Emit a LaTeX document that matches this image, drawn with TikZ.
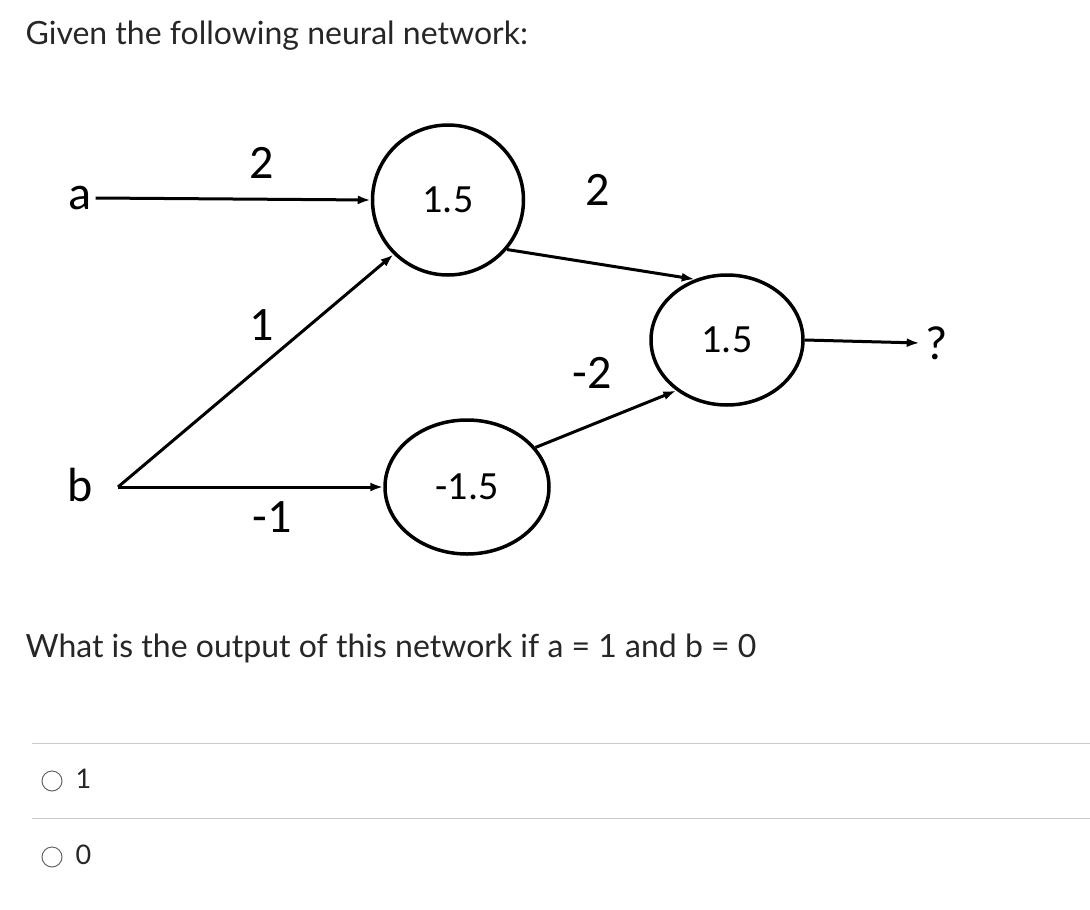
\documentclass[tikz,border=0pt]{standalone}
\usepackage{fontspec}
\setmainfont{Lato}
\newfontfamily\calfont{Carlito}
\usetikzlibrary{arrows.meta,shapes.geometric}
\begin{document}
\begin{tikzpicture}[x=1pt,y=-1pt,
  neuron/.style={draw,line width=3.5pt,ellipse,inner sep=0},
  edge/.style={line width=3pt,-{Latex[length=13pt,width=9pt]}},
  lab/.style={font=\calfont\fontsize{48}{48}\selectfont},
  nlab/.style={font=\calfont\fontsize{40}{40}\selectfont},
  txt/.style={anchor=west,font=\fontsize{32}{32}\selectfont,text=black!85}]
\useasboundingbox (0,0) rectangle (1090,910);
\node[txt] (title) at (22,36) {Given the following neural network:};
\node[neuron,minimum width=151pt,minimum height=150pt] (h1) at (448,200) {};
\node[nlab] at (h1) {1.5};
\node[neuron,minimum width=152pt,minimum height=130pt] (o) at (727,340) {};
\node[nlab] at (o) {1.5};
\node[neuron,minimum width=164pt,minimum height=134pt] (h2) at (467,487) {};
\node[nlab] at (h2) {-1.5};
\node[lab,inner sep=4pt] (a) at (80,198) {a};
\node[lab,inner sep=2pt] (b) at (80,485) {b};
\node[lab,inner sep=0] (q) at (937,343) {?};
\coordinate (bs) at (118,487);
\draw[edge] (a.east) -- (h1.west);
\draw[edge] (bs) -- (h1.225);
\draw[edge] (bs) -- (h2.west);
\draw[edge] (h1.-40) -- (o.118);
\draw[edge] (h2.30) -- (o.225);
\draw[edge] (o.east) -- ([xshift=-6pt]q.west);
\node[lab] at (262,163) {2};
\node[lab] at (262,325) {1};
\node[lab] at (272,517) {-1};
\node[lab] at (598,190) {2};
\node[lab] at (592,373) {-2};
\node[txt] (qq) at (22,648) {What is the output of this network if a = 1 and b = 0};
\draw[black!20,line width=1pt] (32,743) -- (1090,743);
\draw[black!20,line width=1pt] (32,818) -- (1090,818);
\node[draw=black!60,circle,line width=1pt,minimum size=20pt,inner sep=0] (r1) at (52,781) {};
\node[txt,font=\fontsize{27}{27}\selectfont] at (72,779) {1};
\node[draw=black!60,circle,line width=1pt,minimum size=20pt,inner sep=0] (r2) at (52,857) {};
\node[txt,font=\fontsize{27}{27}\selectfont] at (72,855) {0};
\end{tikzpicture}
\end{document}
